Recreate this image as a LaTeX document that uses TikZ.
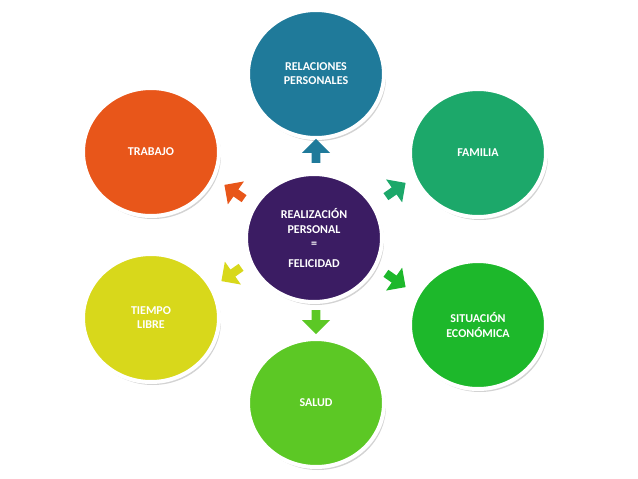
\documentclass[tikz,border=0pt]{standalone}
\usepackage{fontspec}
\setmainfont{Carlito}
\usetikzlibrary{shapes.arrows,shapes.geometric,shadows}
\definecolor{cTop}{HTML}{1F7A9A}
\definecolor{cFam}{HTML}{1CA86A}
\definecolor{cEco}{HTML}{1DB82B}
\definecolor{cSal}{HTML}{5CC825}
\definecolor{cTie}{HTML}{D8D81B}
\definecolor{cTra}{HTML}{E8561A}
\definecolor{cCen}{HTML}{3B1C63}
\tikzset{
 bub/.style={ellipse,minimum width=136pt,minimum height=128pt,draw=white,line width=4pt,
   drop shadow={shadow xshift=2pt,shadow yshift=-3pt,opacity=0.35},text=white,
   font=\bfseries\fontsize{12}{14}\selectfont,align=center,inner sep=0pt},
 arr/.style={single arrow,minimum width=28pt,minimum height=24pt,single arrow head extend=5pt,inner sep=2pt,draw=none}
}
\begin{document}
\begin{tikzpicture}[x=1pt,y=-1pt]
\useasboundingbox (0,0) rectangle (638,479);
\node[bub,fill=cTop] (top) at (316,74) {RELACIONES\\PERSONALES};
\node[bub,fill=cFam] (fam) at (478,153) {FAMILIA};
\node[bub,fill=cEco] (eco) at (478,325) {SITUACIÓN\\ECONÓMICA};
\node[bub,fill=cSal] (sal) at (316,403) {SALUD};
\node[bub,fill=cTie] (tie) at (151,318) {TIEMPO\\LIBRE};
\node[bub,fill=cTra] (tra) at (151,152) {TRABAJO};
\node[bub,fill=cCen] (cen) at (314,238) {REALIZACIÓN\\PERSONAL\\=\\[6pt]FELICIDAD};
\node[arr,fill=cTop,rotate=90] (a1) at (316,153) {};
\node[arr,fill=cFam,rotate=35] (a2) at (394,191) {};
\node[arr,fill=cEco,rotate=-35] (a3) at (394,279) {};
\node[arr,fill=cSal,rotate=-90] (a4) at (316,320) {};
\node[arr,fill=cTie,rotate=-145] (a5) at (233,273) {};
\node[arr,fill=cTra,rotate=145] (a6) at (236,193) {};
\end{tikzpicture}
\end{document}
